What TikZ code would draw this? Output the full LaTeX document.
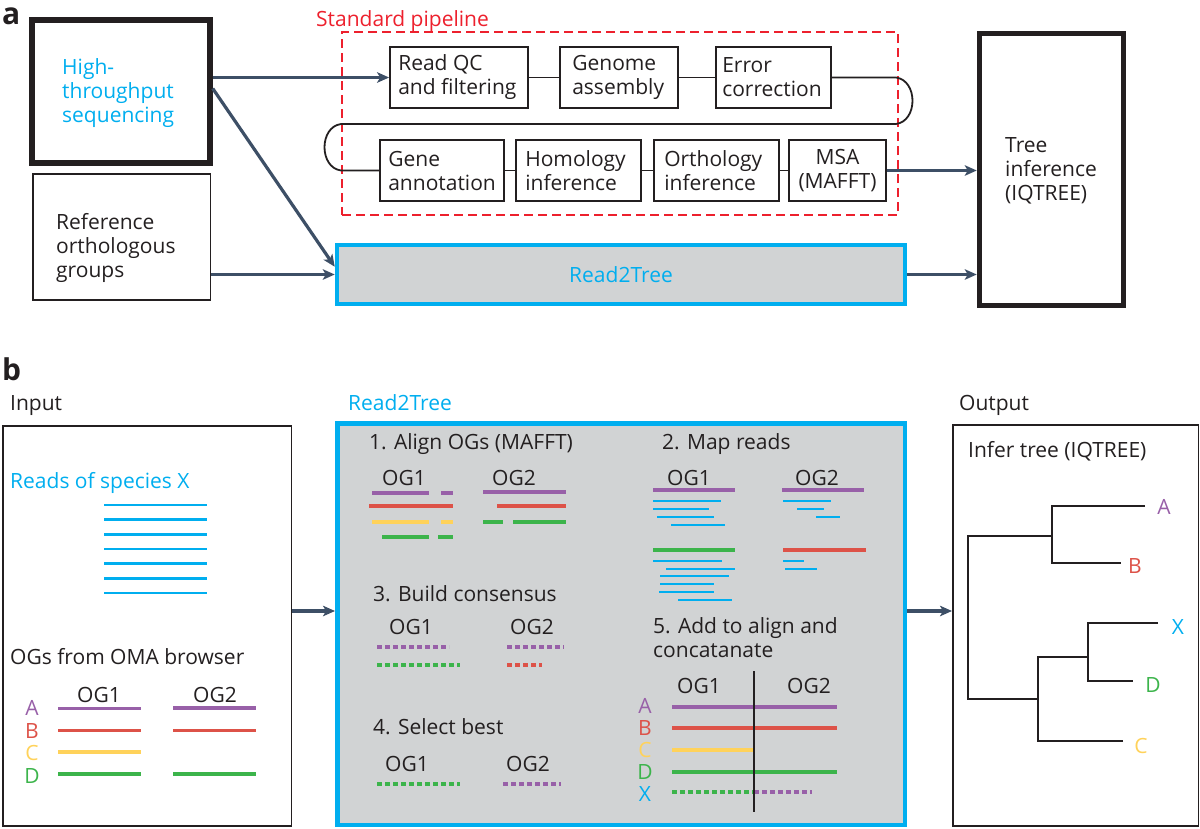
\documentclass[tikz,border=0pt]{standalone}
\usepackage{fontspec}
\setmainfont{Open Sans}
\usetikzlibrary{arrows.meta,calc}
\definecolor{cy}{RGB}{0,174,239}
\definecolor{rdash}{RGB}{237,32,45}
\definecolor{gfill}{RGB}{209,211,212}
\definecolor{arrc}{RGB}{61,79,102}
\definecolor{ink}{RGB}{35,31,32}
\definecolor{pu}{RGB}{152,96,168}
\definecolor{re}{RGB}{221,82,72}
\definecolor{ye}{RGB}{255,210,90}
\definecolor{gr}{RGB}{60,180,75}
\begin{document}
\begin{tikzpicture}[x=1pt,y=-1pt,
  every node/.style={inner sep=0pt, text=ink},
  txt/.style={font=\fontsize{21}{24}\selectfont},
  lbl/.style={font=\fontsize{30}{30}\selectfont\bfseries},
  thickbox/.style={draw=ink, line width=5.5pt},
  thinbox/.style={draw=ink, line width=1.5pt},
  pbox/.style={draw=ink, line width=1.8pt, minimum height=61pt},
  rtbox/.style={draw=cy, fill=gfill, line width=4.5pt},
  conn/.style={draw=ink, line width=1.8pt},
  arr/.style={draw=arrc, line width=3.2pt, -{Stealth[length=12pt,width=10.5pt,inset=3pt]}},
  og/.style={line width=3.5pt},
  rd/.style={line width=2pt, cy},
  cons/.style={line width=3.5pt, dash pattern=on 5pt off 3pt},
  br/.style={draw=ink, line width=2pt}
]
\useasboundingbox (0,0) rectangle (1200,828);

% ---------------- panel a ----------------
\node[lbl, anchor=base west] (la) at (2,24) {a};

\node[thickbox, minimum width=178pt, minimum height=143pt] (hts) at (121,91.5) {};
\node[txt, text=cy, align=left, anchor=base west] (htst) at (62,122) {High-\\throughput\\sequencing};

\node[thinbox, minimum width=177.5pt, minimum height=126pt] (ref) at (121.5,237) {};
\node[txt, align=left, anchor=base west] (reft) at (56,277) {Reference\\orthologous\\groups};

\node[txt, text=rdash, anchor=base west] (stdt) at (316,26) {Standard pipeline};
\node[draw=rdash, line width=2pt, dash pattern=on 9pt off 5pt, minimum width=556pt, minimum height=183pt] (std) at (620,123.5) {};

% pipeline boxes
\node[pbox, minimum width=138pt] (qc) at (459,77.5) {};
\node[txt, align=left, anchor=west] (qct) at ([xshift=9pt]qc.west) {Read QC\\and filtering};
\node[pbox, minimum width=118pt] (ga) at (619,77.5) {};
\node[txt, align=left, anchor=west] (gat) at ([xshift=13pt]ga.west) {Genome\\assembly};
\node[pbox, minimum width=115pt] (ec) at (773.5,77.5) {};
\node[txt, align=left, anchor=west] (ect) at ([xshift=7pt]ec.west) {Error\\correction};

\node[pbox, minimum width=124pt] (gn) at (442,170.5) {};
\node[txt, align=left, anchor=west] (gnt) at ([xshift=9pt]gn.west) {Gene\\annotation};
\node[pbox, minimum width=125pt] (ho) at (578.5,170.5) {};
\node[txt, align=left, anchor=west] (hot) at ([xshift=10pt]ho.west) {Homology\\inference};
\node[pbox, minimum width=125pt] (orth) at (716.5,170.5) {};
\node[txt, align=left, anchor=west] (ortht) at ([xshift=11pt]orth.west) {Orthology\\inference};
\node[pbox, minimum width=97pt] (ms) at (837.5,170.5) {};
\node[txt, align=center] (mst) at (ms.center) {MSA\\(MAFFT)};

\draw[conn] (qc.east) -- (ga.west);
\draw[conn] (ga.east) -- (ec.west);
\draw[conn] (ec.east) -- (896,77.5) .. controls (918,80.5) and (918,121) .. (896,124)
   -- (341,124) .. controls (319,127) and (319,167.5) .. (341,170.5) -- (gn.west);
\draw[conn] (gn.east) -- (ho.west);
\draw[conn] (ho.east) -- (orth.west);
\draw[conn] (orth.east) -- (ms.west);

\node[thickbox, minimum width=144pt, minimum height=272pt] (tree) at (1051.5,169.5) {};
\node[txt, align=left, anchor=base west] (treet) at (1005,200) {Tree\\inference\\(IQTREE)};

\node[rtbox, minimum width=568pt, minimum height=59pt] (r2ta) at (621,274.5) {};
\node[txt, text=cy] (r2tat) at (r2ta.center) {Read2Tree};

\draw[arr] (qc.west -| hts.east) -- (qc.west);
\draw[arr] ([yshift=3pt]hts.east) -- ([yshift=-24pt]r2ta.north west);
\draw[arr] (ref.east |- r2ta.west) -- (r2ta.west);
\draw[arr] (ms.east) -- (ms.east -| tree.west);
\draw[arr] (r2ta.east) -- (r2ta.east -| tree.west);

% ---------------- panel b ----------------
\node[lbl, anchor=base west] (lb) at (2,380) {b};
\node[txt, anchor=base west] (inl) at (10,410) {Input};
\node[txt, text=cy, anchor=base west] (r2tl) at (348,410) {Read2Tree};
\node[txt, anchor=base west] (outl) at (959,410) {Output};

\node[thinbox, minimum width=288.5pt, minimum height=400.25pt] (inbox) at (147,625.9) {};
\node[rtbox, minimum width=567.5pt, minimum height=401.5pt] (r2tb) at (621,624) {};
\node[thinbox, minimum width=245.5pt, minimum height=401.25pt] (outbox) at (1075.5,625.4) {};

\coordinate (ab) at (0,611);
\draw[arr] (inbox.east |- ab) -- (r2tb.west |- ab);
\draw[arr] (r2tb.east |- ab) -- (outbox.west |- ab);

% input contents
\node[txt, text=cy, anchor=base west] (rsx) at (10,488) {Reads of species X};
\foreach \yy in {505,519.7,534.3,549,563.7,578.3,593} \draw[rd, line width=2.5pt] (104,\yy) -- (207,\yy);
\node[txt, anchor=base west] (omat) at (10,664) {OGs from OMA browser};
\node[txt, anchor=base] (iog1) at (99,702) {OG1};
\node[txt, anchor=base] (iog2) at (215,702) {OG2};
\draw[og, pu] (58,708.5) -- (141,708.5);
\draw[og, re] (58,730.5) -- (141,730.5);
\draw[og, ye] (58,752) -- (141,752);
\draw[og, gr] (58,774) -- (141,774);
\draw[og, pu] (173,708) -- (256,708);
\draw[og, re] (173,730.5) -- (256,730.5);
\draw[og, gr] (173,774) -- (256,774);
\node[txt, text=pu, anchor=base] (ia) at (32,715) {A};
\node[txt, text=re, anchor=base] (ib) at (32,738) {B};
\node[txt, text=ye, anchor=base] (ic) at (32,760) {C};
\node[txt, text=gr, anchor=base] (id) at (32,783) {D};

% step 1
\node[txt, anchor=base west] (s1) at (369,449) {1. Align OGs (MAFFT)};
\node[txt, anchor=base west] (s1a) at (382,485) {OG1};
\node[txt, anchor=base west] (s1b) at (492,485) {OG2};
\draw[og, pu] (372,493) -- (429,493) (441,493) -- (453,493);
\draw[og, re] (369,506) -- (453,506);
\draw[og, ye] (372,522) -- (429,522) (441,522) -- (453,522);
\draw[og, gr] (382,537) -- (429,537) (438,537) -- (453,537);
\draw[og, pu] (483,492) -- (566,492);
\draw[og, re] (497,506) -- (566,506);
\draw[og, gr] (483,522) -- (503,522) (513,522) -- (566,522);

% step 2
\node[txt, anchor=base west] (s2) at (662,449) {2. Map reads};
\node[txt, anchor=base west] (s2a) at (667,485) {OG1};
\node[txt, anchor=base west] (s2b) at (795,485) {OG2};
\draw[og, pu] (653,490) -- (735,490);
\draw[rd] (653,501) -- (721,501) (653,509) -- (709,509) (657,517) -- (714,517) (671,525) -- (725,525);
\draw[og, pu] (782,490) -- (864,490);
\draw[rd] (783,501) -- (831,501) (797,509) -- (824,509) (816,517) -- (840,517);
\draw[og, gr] (653,550) -- (735,550);
\draw[rd] (653,561) -- (722,561) (666,569) -- (735,569) (660,576) -- (729,576) (660,584) -- (714,584) (659,592) -- (714,592) (678,600) -- (732,600);
\draw[og, re] (783,550) -- (866,550);
\draw[rd] (783,561) -- (804,561) (785,569) -- (817,569);

% step 3
\node[txt, anchor=base west] (s3) at (373,601) {3. Build consensus};
\node[txt, anchor=base west] (s3a) at (389,634) {OG1};
\node[txt, anchor=base west] (s3b) at (510,634) {OG2};
\draw[cons, pu] (377,647) -- (449,647);
\draw[cons, gr] (377,665) -- (460,665);
\draw[cons, pu] (507,647) -- (564,647);
\draw[cons, re] (507,665) -- (542,665);

% step 4
\node[txt, anchor=base west] (s4) at (373,734) {4. Select best};
\node[txt, anchor=base west] (s4a) at (385,771) {OG1};
\node[txt, anchor=base west] (s4b) at (506,771) {OG2};
\draw[cons, gr] (377,784) -- (460,784);
\draw[cons, pu] (503,784) -- (561,784);

% step 5
\node[txt, align=left, anchor=base west] (s5) at (653,657) {5. Add to align and\\concatanate};
\node[txt, anchor=base west] (s5a) at (677,693) {OG1};
\node[txt, anchor=base west] (s5b) at (787,693) {OG2};
\draw[og, pu] (672,707) -- (837,707);
\draw[og, re] (672,728) -- (837,728);
\draw[og, ye] (672,750) -- (753,750);
\draw[og, gr] (672,772) -- (837,772);
\draw[cons, gr] (672,792) -- (754,792);
\draw[cons, pu] (754,792) -- (812,792);
\draw[br] (754,671) -- (754,812);
\node[txt, text=pu, anchor=base] (xa) at (645,713) {A};
\node[txt, text=re, anchor=base] (xb) at (645,735) {B};
\node[txt, text=ye, anchor=base] (xc) at (645,757) {C};
\node[txt, text=gr, anchor=base] (xd) at (645,779) {D};
\node[txt, text=cy, anchor=base] (xx) at (645,801) {X};

% output tree
\node[txt, anchor=base west] (inft) at (968,457) {Infer tree (IQTREE)};
\draw[br] (1145,506) -- (1052,506) -- (1052,563) -- (1121,563);
\draw[br] (1052,536) -- (968,536) -- (968,699) -- (1038,699);
\draw[br] (1123,741) -- (1038,741) -- (1038,657) -- (1088,657);
\draw[br] (1158,623) -- (1088,623) -- (1088,681) -- (1133,681);
\node[txt, text=pu] (ta) at (1164,507) {A};
\node[txt, text=re] (tb) at (1135,566) {B};
\node[txt, text=cy] (tx) at (1178,627) {X};
\node[txt, text=gr] (td) at (1153,685) {D};
\node[txt, text=ye] (tc) at (1141,746) {C};
\end{tikzpicture}
\end{document}
